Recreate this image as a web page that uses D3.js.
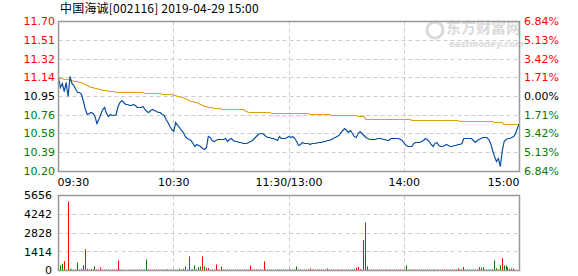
<!DOCTYPE html>
<html>
<head>
<meta charset="utf-8">
<script src="https://cdn.jsdelivr.net/npm/d3@7"></script>
<style>
  body { margin: 0; background: #fff; }
  text { font-family: "DejaVu Sans", sans-serif; }
</style>
</head>
<body>
<div id="chart"></div>
<script>
// chart data, one entry per trading minute (09:30 .. 11:30, 13:01 .. 15:00)
const stockTitle = "中国海诚[002116] 2019-04-29 15:00";
const prevClose = 10.95;

const price = [
  11.14,11.04,11.08,11.00,11.09,10.95,11.15,11.08,11.06,11.02,
  10.99,10.99,10.97,10.90,10.82,10.77,10.78,10.79,10.78,10.75,
  10.68,10.72,10.77,10.82,10.84,10.78,10.75,10.77,10.76,10.76,
  10.77,10.85,10.89,10.91,10.89,10.87,10.87,10.86,10.86,10.87,
  10.86,10.84,10.84,10.84,10.85,10.82,10.80,10.79,10.81,10.82,
  10.81,10.80,10.79,10.79,10.77,10.76,10.72,10.69,10.65,10.62,
  10.60,10.69,10.66,10.64,10.61,10.59,10.55,10.53,10.52,10.51,
  10.48,10.45,10.47,10.46,10.45,10.43,10.42,10.44,10.55,10.54,
  10.51,10.50,10.51,10.52,10.52,10.52,10.52,10.53,10.50,10.52,
  10.53,10.51,10.50,10.50,10.49,10.49,10.48,10.48,10.48,10.49,
  10.50,10.51,10.53,10.55,10.57,10.58,10.58,10.57,10.55,10.54,
  10.54,10.53,10.53,10.52,10.51,10.55,10.53,10.53,10.53,10.54,
  10.55,10.54,10.55,10.53,10.50,10.46,10.47,10.49,10.48,10.48,
  10.48,10.47,10.48,10.48,10.48,10.49,10.49,10.49,10.50,10.50,
  10.51,10.51,10.52,10.53,10.54,10.55,10.56,10.59,10.61,10.63,
  10.61,10.59,10.61,10.58,10.55,10.54,10.58,10.60,10.58,10.56,
  10.54,10.53,10.52,10.52,10.52,10.52,10.53,10.53,10.53,10.52,
  10.52,10.51,10.51,10.53,10.53,10.53,10.53,10.53,10.52,10.51,
  10.48,10.46,10.45,10.45,10.45,10.48,10.49,10.49,10.49,10.50,
  10.51,10.53,10.52,10.50,10.47,10.45,10.48,10.49,10.46,10.45,
  10.45,10.46,10.47,10.46,10.45,10.45,10.46,10.46,10.47,10.47,
  10.48,10.53,10.53,10.53,10.53,10.53,10.51,10.49,10.51,10.52,
  10.53,10.54,10.54,10.54,10.52,10.48,10.41,10.35,10.30,10.33,
  10.25,10.40,10.50,10.52,10.53,10.53,10.54,10.55,10.58,10.64,
  10.68
];

const avgPrice = [
  11.14,11.13,11.13,11.12,11.12,11.12,11.11,11.11,11.10,11.10,
  11.10,11.09,11.09,11.08,11.07,11.06,11.05,11.04,11.04,11.03,
  11.03,11.02,11.02,11.01,11.01,11.01,11.00,11.00,11.00,11.00,
  10.99,10.99,10.99,10.99,10.99,10.99,10.99,10.99,10.99,10.99,
  10.99,10.99,10.99,10.99,10.99,10.98,10.98,10.98,10.98,10.98,
  10.98,10.98,10.98,10.98,10.97,10.97,10.97,10.97,10.97,10.97,
  10.96,10.96,10.95,10.95,10.94,10.94,10.93,10.92,10.91,10.90,
  10.90,10.89,10.89,10.88,10.87,10.86,10.85,10.85,10.84,10.84,
  10.84,10.83,10.83,10.83,10.83,10.82,10.82,10.82,10.82,10.82,
  10.82,10.82,10.82,10.82,10.82,10.82,10.82,10.81,10.80,10.79,
  10.79,10.79,10.79,10.79,10.79,10.79,10.79,10.79,10.79,10.79,
  10.79,10.78,10.78,10.78,10.78,10.78,10.78,10.78,10.78,10.78,
  10.78,10.78,10.78,10.78,10.78,10.78,10.78,10.78,10.78,10.78,
  10.78,10.77,10.77,10.77,10.77,10.77,10.77,10.77,10.77,10.77,
  10.77,10.77,10.76,10.76,10.76,10.76,10.76,10.76,10.76,10.76,
  10.76,10.76,10.76,10.76,10.76,10.76,10.75,10.75,10.75,10.75,
  10.72,10.72,10.72,10.72,10.72,10.72,10.72,10.72,10.72,10.72,
  10.72,10.72,10.72,10.72,10.72,10.72,10.72,10.72,10.72,10.72,
  10.72,10.72,10.72,10.72,10.71,10.71,10.71,10.71,10.71,10.71,
  10.71,10.71,10.71,10.71,10.71,10.71,10.71,10.71,10.71,10.71,
  10.71,10.71,10.71,10.71,10.71,10.71,10.71,10.71,10.71,10.70,
  10.70,10.70,10.70,10.70,10.70,10.70,10.70,10.70,10.70,10.70,
  10.70,10.70,10.70,10.70,10.70,10.70,10.70,10.69,10.69,10.69,
  10.69,10.69,10.67,10.67,10.67,10.67,10.67,10.67,10.67,10.67,
  10.67
];

const volume = [
  0,380,510,700,60,5200,130,80,70,70,
  590,70,130,380,1600,130,70,130,70,300,
  70,70,230,60,70,60,70,60,80,70,
  60,760,80,70,60,0,0,60,70,60,
  60,70,60,70,60,70,840,80,70,60,
  70,60,70,60,70,70,60,80,70,60,
  70,70,60,130,70,130,300,70,1070,70,
  100,380,80,250,300,1070,300,180,180,70,
  70,70,460,70,70,300,80,70,70,70,
  70,70,60,70,70,70,70,80,70,70,
  380,80,70,80,70,80,70,690,70,80,
  70,70,70,60,70,80,70,70,70,70,
  80,70,70,80,300,70,70,60,70,70,
  80,150,70,70,70,70,70,70,70,80,
  150,70,70,70,70,70,70,70,70,70,
  70,70,70,70,100,200,260,100,70,2290,
  3620,300,70,70,70,70,70,70,70,70,
  70,70,70,70,70,70,70,70,70,70,
  70,380,70,70,80,70,70,70,70,70,
  70,70,70,70,70,70,80,70,70,70,
  70,70,70,70,70,70,70,70,150,70,
  70,260,70,70,70,70,70,70,70,250,
  200,250,70,70,70,70,80,760,180,100,
  380,940,380,380,250,120,150,150,0,0,
  1910
];

// r = up minute (red bar), g = down minute (green bar)
const volumeSide =
  "rggrgrgrgg" + "grrgggrrgg" + "rrrrggggrr" + "rrrggrrggg" + "grrrgggrrr" +
  "rgrrrgggrg" + "ggggggrggr" + "ggrggrgrrg" + "grrrrrrgrr" + "ggggggrrrg" +
  "rrrrrgrrrg" + "gggggggggg" + "rrgggggrrr" + "rrrrrrrrrr" + "rrrrrrrrrr" +
  "rggggrrrrg" + "grrrrggrrr" + "rrrrrgrrrr" + "ggggrrrrgg" + "ggrrggrrgr" +
  "rrrgrrrrrr" + "grggggggrr" + "rrgggggggr" + "grggrrrrrr" + "r";

const priceTicks = [11.70, 11.51, 11.32, 11.14, 10.95, 10.76, 10.58, 10.39, 10.20];
const pctLabels = ["6.84%", "5.13%", "3.42%", "1.71%", "0.00%", "1.71%", "3.42%", "5.13%", "6.84%"];
const volumeTicks = [0, 1414, 2828, 4242, 5656];
const timeLabels = ["09:30", "10:30", "11:30/13:00", "14:00", "15:00"];
const timeMinutes = [0, 60, 120, 180, 240];

const width = 578, height = 276;
const plot = { left: 58.5, right: 519.5, top: 21.5, bottom: 171.5 };
const vol = { top: 195.5, bottom: 270.5 };

const up = "#ff0000", down = "#008000", gridColor = "#cccccc", frameColor = "#999999";

const svg = d3.create("svg")
    .attr("width", width)
    .attr("height", height)
    .style("display", "block");

svg.append("rect").attr("width", width).attr("height", height).attr("fill", "#fff");

// scales
const x = d3.scaleLinear().domain([0, 240]).range([plot.left, plot.right]);
const y = d3.scaleLinear().domain([10.20, 11.70]).range([plot.bottom, plot.top]);
const yVol = d3.scaleLinear().domain([0, 5656]).range([vol.bottom, vol.top]);
const crisp = v => Math.floor(v) + 0.5;

const tickColor = v => v > prevClose + 1e-9 ? up : (v < prevClose - 1e-9 ? down : "#000");

// title
svg.append("text")
    .attr("x", 60).attr("y", 13)
    .style("font-family", "'Noto Sans CJK SC', sans-serif")
    .style("font-size", "12px")
    .style("letter-spacing", "0.2px")
    .attr("fill", "#000")
    .text(stockTitle);

// watermark
const wm = svg.append("g").attr("fill", "#dadada");
wm.append("circle").attr("cx", 435).attr("cy", 30).attr("r", 8)
    .attr("fill", "none").attr("stroke", "#dadada").attr("stroke-width", 3);
wm.append("text").attr("x", 446).attr("y", 33)
    .style("font-family", "'Noto Sans CJK SC', sans-serif")
    .style("font-size", "15px").style("font-weight", "bold")
    .text("东方财富网");
wm.append("text").attr("x", 449).attr("y", 47)
    .style("font-size", "8.5px").style("font-weight", "bold").style("font-style", "italic")
    .text("eastmoney.com");

// price grid
const priceGrid = svg.append("g").attr("stroke", gridColor).attr("stroke-dasharray", "4,3");
priceGrid.selectAll("line.h")
    .data(priceTicks.slice(1, -1))
    .join("line")
    .attr("x1", plot.left).attr("x2", plot.right)
    .attr("y1", d => crisp(y(d))).attr("y2", d => crisp(y(d)));
priceGrid.selectAll("line.v")
    .data(timeMinutes.slice(1, -1))
    .join("line")
    .attr("x1", d => crisp(x(d))).attr("x2", d => crisp(x(d)))
    .attr("y1", plot.top).attr("y2", plot.bottom);

// average line
svg.append("path")
    .datum(avgPrice)
    .attr("fill", "none")
    .attr("stroke", "#e0a01c")
    .attr("stroke-width", 1.2)
    .attr("d", d3.line().x((d, i) => x(i)).y(d => y(d)));

// price line
svg.append("path")
    .datum(price)
    .attr("fill", "none")
    .attr("stroke", "#0a4fa3")
    .attr("stroke-width", 1.2)
    .attr("d", d3.line().x((d, i) => x(i)).y(d => y(d)));

// price frame
svg.append("rect")
    .attr("x", plot.left).attr("y", plot.top)
    .attr("width", plot.right - plot.left).attr("height", plot.bottom - plot.top)
    .attr("fill", "none").attr("stroke", frameColor).attr("stroke-width", 1.5);

// left price labels
svg.append("g")
    .selectAll("text")
    .data(priceTicks)
    .join("text")
    .attr("x", 55).attr("y", d => y(d)).attr("dy", "0.36em")
    .attr("text-anchor", "end")
    .style("font-size", "11px")
    .attr("fill", d => tickColor(d))
    .text(d => d.toFixed(2));

// right percent labels
svg.append("g")
    .selectAll("text")
    .data(priceTicks)
    .join("text")
    .attr("x", 524).attr("y", d => y(d)).attr("dy", "0.36em")
    .style("font-size", "11px")
    .attr("fill", d => tickColor(d))
    .text((d, i) => pctLabels[i]);

// time labels
svg.append("g")
    .selectAll("text")
    .data(timeLabels)
    .join("text")
    .attr("x", (d, i) => i === 0 ? plot.left - 1 : (i === timeLabels.length - 1 ? plot.right : x(timeMinutes[i])))
    .attr("y", 186)
    .attr("text-anchor", (d, i) => i === 0 ? "start" : (i === timeLabels.length - 1 ? "end" : "middle"))
    .style("font-size", "11px")
    .attr("fill", "#000")
    .text(d => d);

// volume grid
const volGrid = svg.append("g").attr("stroke", gridColor).attr("stroke-dasharray", "4,3");
volGrid.selectAll("line.h")
    .data(volumeTicks.slice(1, -1))
    .join("line")
    .attr("x1", plot.left).attr("x2", plot.right)
    .attr("y1", d => crisp(yVol(d))).attr("y2", d => crisp(yVol(d)));
volGrid.selectAll("line.v")
    .data(timeMinutes.slice(1, -1))
    .join("line")
    .attr("x1", d => crisp(x(d))).attr("x2", d => crisp(x(d)))
    .attr("y1", vol.top).attr("y2", vol.bottom);

// volume bars
svg.append("g")
    .selectAll("rect")
    .data(volume)
    .join("rect")
    .attr("x", (d, i) => Math.floor(x(i)))
    .attr("y", d => yVol(d))
    .attr("width", 1)
    .attr("height", d => vol.bottom - yVol(d))
    .attr("fill", (d, i) => volumeSide[i] === "r" ? up : down);

// volume frame
svg.append("rect")
    .attr("x", plot.left).attr("y", vol.top)
    .attr("width", plot.right - plot.left).attr("height", vol.bottom - vol.top)
    .attr("fill", "none").attr("stroke", frameColor).attr("stroke-width", 1.5);

// volume labels
svg.append("g")
    .selectAll("text")
    .data(volumeTicks)
    .join("text")
    .attr("x", 52).attr("y", d => yVol(d)).attr("dy", "0.36em")
    .attr("text-anchor", "end")
    .style("font-size", "11px")
    .attr("fill", "#000")
    .text(d => d);

document.getElementById("chart").appendChild(svg.node());
</script>
</body>
</html>
